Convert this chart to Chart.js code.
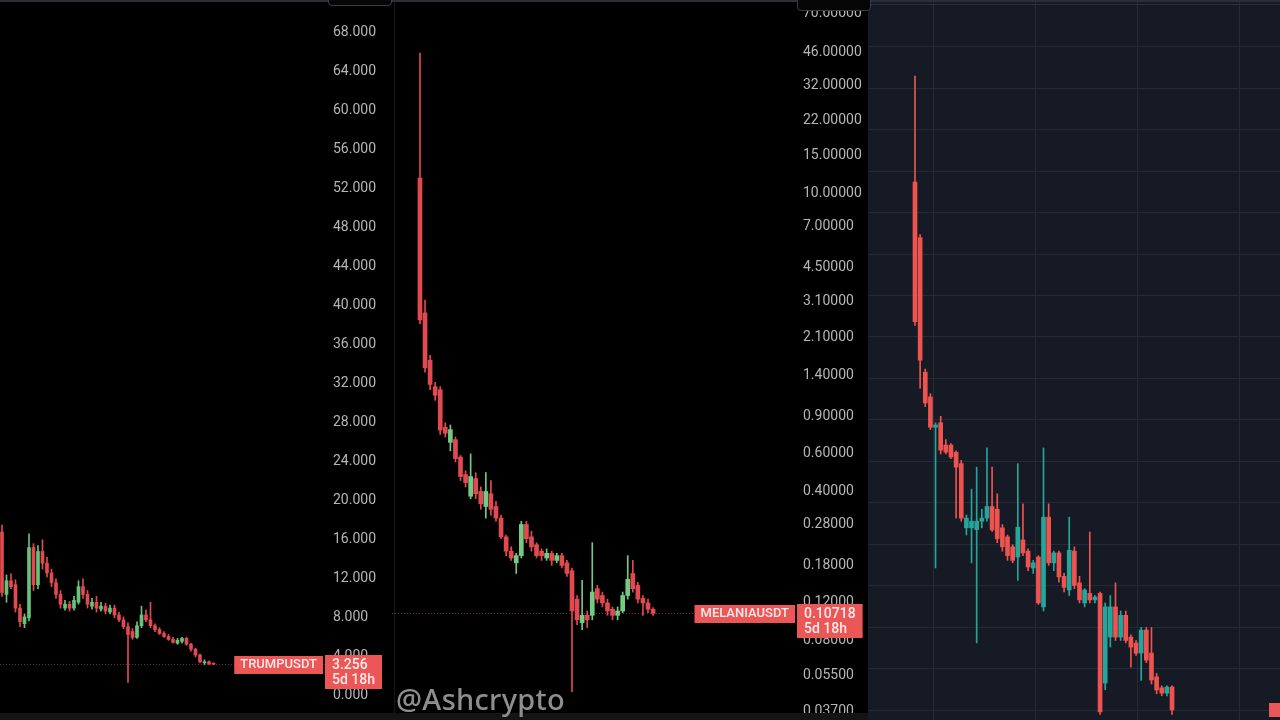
<!DOCTYPE html>
<html>
<head>
<meta charset="utf-8">
<script src="https://cdn.jsdelivr.net/npm/chart.js@4.4.1/dist/chart.umd.min.js"></script>
<style>
  html, body { margin: 0; padding: 0; background: #000; }
  body { width: 1280px; height: 720px; position: relative; overflow: hidden; font-family: Roboto, sans-serif; }
  .panel { position: absolute; top: 0; height: 720px; }
  #pA { left: 0; width: 392px; }
  #pB { left: 392px; width: 476px; }
  #pC { left: 868px; width: 412px; background: #161a25; }
  #topline { position: absolute; left: 0; top: 0; width: 1280px; height: 2px; background: #2a2e39; }
  #ctop { position: absolute; left: 868px; top: 4px; width: 412px; height: 1px; background: #2c3140; }
  #sep { position: absolute; left: 394px; top: 0; width: 1px; height: 720px; background: #181818; }
  #bottom { position: absolute; left: 0; top: 713px; width: 868px; height: 7px; background: #141414; }
  .tab { position: absolute; top: -5px; background: #050505; border: 1px solid #3a3d45; border-radius: 4px; }
  #tabA { left: 328px; width: 62px; height: 9px; }
  #tabB { left: 797px; width: 72px; height: 14px; }
  #mark { position: absolute; left: 396px; top: 679px; font: 500 29px "Noto Sans", sans-serif; color: #8e8e8e; letter-spacing: 0.3px; }
</style>
</head>
<body>
<div class="panel" id="pA"><canvas id="chartA"></canvas></div>
<div class="panel" id="pB"><canvas id="chartB"></canvas></div>
<div class="panel" id="pC"><canvas id="chartC"></canvas></div>
<div id="sep"></div>
<div id="topline"></div>
<div id="ctop"></div>
<div id="bottom"></div>
<div class="tab" id="tabA"></div>
<div class="tab" id="tabB"></div>
<div id="mark">@Ashcrypto</div>
<script>
// TRUMPUSDT candles (linear price scale)
const trumpOpen  = [16.8,10.4,11.8,11.4,9.0,7.4,8.0,15.2,11.4,14.8,13.6,12.6,11.6,10.4,9.0,9.4,9.0,9.6,11.2,10.4,9.2,9.6,8.9,9.2,8.6,9.0,8.3,7.8,7.1,6.6,6.0,7.2,8.3,7.8,7.2,6.8,6.4,6.1,5.8,5.4,5.6,5.9,5.3,4.8,4.2,3.4,3.5,3.3];
const trumpHigh  = [17.5,12.4,12.5,11.9,9.4,8.4,16.6,15.6,15.4,16.0,14.2,13.0,12.0,10.8,9.8,9.7,10.2,11.8,12.0,10.8,10.0,10.2,9.6,9.5,9.3,9.3,8.6,8.1,7.5,6.9,7.6,9.2,8.8,9.6,7.4,7.0,6.6,6.3,6.0,5.9,6.0,6.0,5.4,4.9,4.3,3.7,3.6,3.4];
const trumpLow   = [10.2,9.6,11.0,8.6,7.1,7.0,7.7,10.8,11.0,13.0,12.2,11.2,10.0,9.0,8.8,8.7,8.8,9.4,10.0,9.0,8.9,8.6,8.7,8.4,8.4,8.0,7.6,6.9,1.4,5.8,5.9,7.0,7.6,7.0,6.6,6.3,6.0,5.7,5.4,5.3,5.4,5.2,4.6,4.0,3.4,3.2,3.2,3.2];
const trumpClose = [10.6,11.8,11.2,9.0,7.6,8.1,15.2,11.4,14.8,13.6,12.6,11.6,10.4,9.4,9.4,9.0,9.8,11.2,10.4,9.4,9.6,9.0,9.2,8.7,9.0,8.3,7.8,7.1,6.3,6.0,7.2,8.3,7.8,7.2,6.8,6.4,6.1,5.8,5.5,5.7,5.9,5.3,4.8,4.2,3.5,3.5,3.3,3.256];
const trumpTicks = [0,4,8,12,16,20,24,28,32,36,40,44,48,52,56,60,64,68];

// MELANIAUSDT candles (log price scale)
const melOpen  = [11.8,2.75,1.65,1.24,1.20,0.80,0.68,0.70,0.58,0.48,0.38,0.46,0.40,0.34,0.39,0.34,0.30,0.245,0.21,0.185,0.20,0.28,0.245,0.225,0.21,0.195,0.205,0.19,0.20,0.185,0.17,0.125,0.097,0.105,0.105,0.14,0.13,0.12,0.112,0.105,0.11,0.13,0.165,0.145,0.126,0.12,0.112];
const melHigh  = [45.5,3.16,1.74,1.30,1.24,0.84,0.82,0.72,0.59,0.50,0.60,0.49,0.42,0.49,0.45,0.36,0.31,0.25,0.22,0.205,0.29,0.29,0.26,0.23,0.215,0.215,0.21,0.205,0.205,0.19,0.175,0.13,0.153,0.11,0.23,0.145,0.135,0.125,0.115,0.115,0.135,0.20,0.19,0.15,0.13,0.125,0.114];
const melLow   = [2.45,1.45,1.20,1.07,0.74,0.72,0.62,0.55,0.45,0.42,0.37,0.37,0.33,0.30,0.31,0.29,0.24,0.20,0.19,0.165,0.195,0.23,0.21,0.195,0.19,0.19,0.18,0.185,0.175,0.16,0.046,0.095,0.09,0.092,0.10,0.12,0.115,0.105,0.10,0.10,0.108,0.125,0.135,0.12,0.105,0.108,0.105];
const melClose = [2.55,1.52,1.27,1.13,0.776,0.75,0.78,0.57,0.47,0.44,0.47,0.39,0.35,0.40,0.33,0.30,0.245,0.21,0.195,0.20,0.28,0.24,0.22,0.20,0.20,0.205,0.19,0.20,0.18,0.165,0.11,0.10,0.105,0.10,0.135,0.125,0.12,0.11,0.105,0.11,0.13,0.155,0.14,0.125,0.12,0.112,0.10718];
const melTicks = [70,46,32,22,15,10,7,4.5,3.1,2.1,1.4,0.9,0.6,0.4,0.28,0.18,0.12,0.08,0.055,0.037];

// third panel candles, same log scale
const navOpen  = [11.3,6.2,1.45,1.11,0.80,0.84,0.66,0.66,0.61,0.54,0.27,0.27,0.265,0.29,0.30,0.34,0.33,0.27,0.245,0.22,0.197,0.237,0.21,0.175,0.197,0.115,0.303,0.185,0.206,0.16,0.138,0.21,0.149,0.12,0.133,0.124,0.133,0.0505,0.083,0.115,0.083,0.105,0.083,0.0778,0.0698,0.0895,0.0698,0.054,0.048,0.0453,0.0484];
const navHigh  = [35.5,6.4,1.5,1.15,0.84,0.90,0.70,0.67,0.62,0.56,0.31,0.41,0.52,0.33,0.64,0.52,0.39,0.28,0.25,0.225,0.54,0.35,0.215,0.19,0.20,0.64,0.35,0.21,0.21,0.165,0.303,0.22,0.16,0.14,0.258,0.13,0.135,0.12,0.13,0.149,0.11,0.11,0.085,0.08,0.092,0.092,0.092,0.056,0.049,0.049,0.049];
const navLow   = [2.4,1.22,1.0,0.78,0.175,0.60,0.60,0.57,0.30,0.29,0.25,0.185,0.078,0.27,0.29,0.26,0.23,0.21,0.19,0.185,0.153,0.20,0.17,0.165,0.118,0.11,0.18,0.17,0.15,0.135,0.13,0.14,0.12,0.115,0.12,0.12,0.036,0.047,0.0745,0.08,0.08,0.078,0.06,0.068,0.052,0.063,0.05,0.045,0.044,0.044,0.036];
const navClose = [2.5,1.65,1.04,0.80,0.82,0.625,0.612,0.58,0.52,0.30,0.30,0.29,0.29,0.30,0.34,0.264,0.24,0.22,0.20,0.19,0.272,0.206,0.177,0.185,0.12,0.303,0.185,0.206,0.159,0.142,0.212,0.145,0.124,0.138,0.124,0.128,0.037,0.115,0.115,0.083,0.105,0.08,0.0745,0.0698,0.0895,0.0647,0.0522,0.0469,0.0453,0.0484,0.0378];

const LOG_MIN = 0.0339, LOG_MAX = 80.7;
const axisColor = '#b6b6b6';
const axisFont = { family: 'Roboto', size: 14 };

function candleSets(open, high, low, close, up, down, body) {
  const col = open.map((o, i) => close[i] >= o ? up : down);
  return [
    { data: open.map((o, i) => ({ x: i, y: [o, close[i]] })), backgroundColor: col,
      barThickness: body, minBarLength: 1, grouped: false, xAxisID: 'x', yAxisID: 'y' },
    { data: low.map((l, i) => ({ x: i, y: [l, high[i]] })), backgroundColor: col,
      barThickness: 1, grouped: false, xAxisID: 'x', yAxisID: 'y' }
  ];
}

// last price line + red tags
const priceTag = {
  id: 'priceTag',
  beforeDatasetsDraw(chart, args, o) {
    if (!o.value || !o.line) return;
    const { ctx, chartArea } = chart;
    const y = Math.round(chart.scales.y.getPixelForValue(o.value)) + 0.5;
    ctx.save();
    ctx.strokeStyle = 'rgba(190,70,70,0.6)';
    ctx.lineWidth = 1;
    ctx.setLineDash([1, 2]);
    ctx.beginPath();
    ctx.moveTo(chartArea.left, y);
    ctx.lineTo(chartArea.right, y);
    ctx.stroke();
    ctx.restore();
  },
  afterDraw(chart, args, o) {
    if (!o.value) return;
    const { ctx, chartArea } = chart;
    const y = Math.round(chart.scales.y.getPixelForValue(o.value));
    ctx.save();
    ctx.fillStyle = '#eb5757';
    if (o.square) {
      ctx.fillRect(chartArea.right - 11, y - 7, 11, 14);
      ctx.restore();
      return;
    }
    ctx.font = '500 13px Roboto';
    ctx.textBaseline = 'middle';
    const nameW = ctx.measureText(o.name).width + 12;
    ctx.fillRect(chartArea.right - 2 - nameW, y - 8, nameW, 18);
    ctx.font = '500 14px Roboto';
    const priceW = Math.max(ctx.measureText(o.label).width, ctx.measureText(o.sub).width) + 14;
    ctx.fillRect(chartArea.right, y - 9, priceW, 34);
    ctx.fillStyle = '#ffe9e9';
    ctx.font = '500 13px Roboto';
    ctx.fillText(o.name, chartArea.right - 2 - nameW + 6, y + 1);
    ctx.font = '500 14px Roboto';
    ctx.fillText(o.label, chartArea.right + 7, y + 1);
    ctx.fillText(o.sub, chartArea.right + 7, y + 16);
    ctx.restore();
  }
};

function priceAxis(type, min, max, ticks, digits, width, pad) {
  return {
    type: type, position: 'right', min: min, max: max, bounds: 'data',
    grid: { display: false, drawTicks: false }, border: { display: false },
    ticks: { color: axisColor, font: axisFont, padding: pad, autoSkip: false,
             callback: v => Number(v).toFixed(digits) },
    afterBuildTicks: s => { s.ticks = ticks.map(v => ({ value: v })); },
    afterFit: s => { s.width = width; s.paddingTop = 0; s.paddingBottom = 0; }
  };
}

function hiddenX(min, max) {
  return { type: 'linear', display: false, min: min, max: max, bounds: 'data', offset: false };
}

const common = {
  responsive: true, maintainAspectRatio: false, animation: false, events: [],
  layout: { padding: 0 }
};

new Chart(document.getElementById('chartA'), {
  type: 'bar',
  data: { datasets: candleSets(trumpOpen, trumpHigh, trumpLow, trumpClose, '#69c27a', '#e04a50', 3) },
  options: Object.assign({}, common, {
    scales: { x: hiddenX(-0.444, 71.78), y: priceAxis('linear', -2.458, 71.28, trumpTicks, 3, 67, 8) },
    plugins: { legend: { display: false }, tooltip: { enabled: false },
      priceTag: { value: 3.256, line: true, name: 'TRUMPUSDT', label: '3.256', sub: '5d 18h' } }
  }),
  plugins: [priceTag]
});

new Chart(document.getElementById('chartB'), {
  type: 'bar',
  data: { datasets: candleSets(melOpen, melHigh, melLow, melClose, '#74c983', '#e04a50', 4) },
  options: Object.assign({}, common, {
    scales: { x: hiddenX(-5.52, 74.4), y: priceAxis('logarithmic', LOG_MIN, LOG_MAX, melTicks, 5, 71, 6) },
    plugins: { legend: { display: false }, tooltip: { enabled: false },
      priceTag: { value: 0.10718, line: true, name: 'MELANIAUSDT', label: '0.10718', sub: '5d 18h' } }
  }),
  plugins: [priceTag]
});

new Chart(document.getElementById('chartC'), {
  type: 'bar',
  data: { datasets: candleSets(navOpen, navHigh, navLow, navClose, '#26a69a', '#ef5350', 4) },
  options: Object.assign({}, common, {
    scales: {
      x: hiddenX(-9.14, 71.0),
      y: { type: 'logarithmic', display: false, min: LOG_MIN, max: LOG_MAX, bounds: 'data' },
      gx: { type: 'linear', axis: 'x', position: 'bottom', min: -0.637, max: 3.40, bounds: 'data', offset: false,
            grid: { color: '#252a37', drawTicks: false, offset: false }, border: { display: false },
            ticks: { display: false },
            afterBuildTicks: s => { s.ticks = [0, 1, 2, 3].map(v => ({ value: v })); },
            afterFit: s => { s.height = 0; s.paddingLeft = 0; s.paddingRight = 0; } },
      gy: { type: 'linear', axis: 'y', position: 'left', min: -0.241, max: 17.13, bounds: 'data', offset: false,
            grid: { color: '#252a37', drawTicks: false, offset: false }, border: { display: false },
            ticks: { display: false },
            afterBuildTicks: s => { s.ticks = [0,1,2,3,4,5,6,7,8,9,10,11,12,13,14,15,16].map(v => ({ value: v })); },
            afterFit: s => { s.width = 0; s.paddingTop = 0; s.paddingBottom = 0; } }
    },
    plugins: { legend: { display: false }, tooltip: { enabled: false },
      priceTag: { value: 0.0378, square: true } }
  }),
  plugins: [priceTag]
});
</script>
</body>
</html>
